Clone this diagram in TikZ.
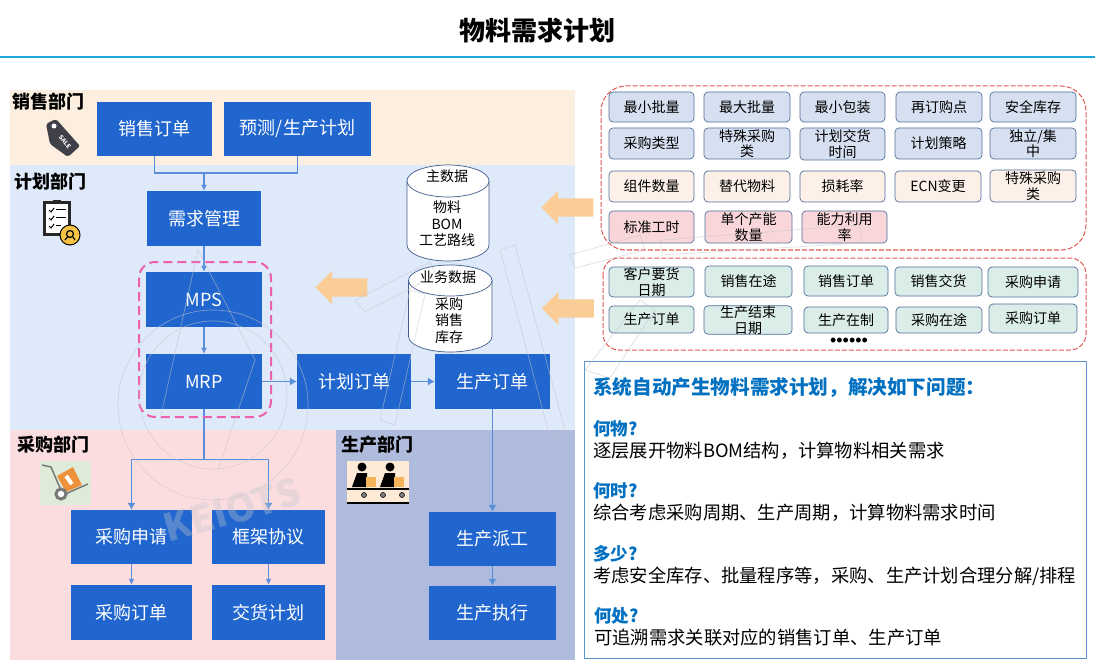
\documentclass[tikz,border=0pt]{standalone}
\usepackage{fontspec}
\setmainfont{Noto Sans CJK SC}
\newfontfamily\dotfont{Liberation Sans}
\usetikzlibrary{shapes.arrows,arrows.meta}

\begin{document}
\begin{tikzpicture}[x=1pt,y=-1pt]
\tikzstyle{every node}+=[inner sep=0pt]
\tikzstyle{bluebox}=[rectangle,fill=boxblue,text=white,font=\fontsize{18}{20}\selectfont]
\tikzstyle{smallbox}=[rectangle,rounded corners=4pt,draw=smallline,line width=0.7pt,align=center,font=\fontsize{14}{15.5}\selectfont]
\tikzstyle{deptlabel}=[anchor=west,font=\fontsize{18}{20}\selectfont\bfseries]
\tikzstyle{flow}=[draw=flowline,line width=1pt,-{Latex[length=7pt,width=8pt]}]
\tikzstyle{flowthick}=[draw=flowline,line width=1.8pt,-{Latex[length=6pt,width=6pt]}]
\tikzstyle{flowplain}=[draw=flowline,line width=1.5pt]
\tikzstyle{bigarrow}=[single arrow,fill=arroworange,shape border rotate=180,minimum height=52pt,minimum width=33pt,inner xsep=0pt,inner ysep=9pt,single arrow head extend=7.5pt,single arrow tip angle=90]
\tikzstyle{datacyl}=[draw=cylline,fill=white,line width=0.7pt]
\tikzstyle{cyltext}=[align=center,font=\fontsize{14}{16.5}\selectfont]
\tikzstyle{infohead}=[anchor=west,text=infoblue,font=\fontsize{17.5}{20}\selectfont\bfseries]
\tikzstyle{infotext}=[anchor=west,font=\fontsize{18.3}{20}\selectfont]
\tikzstyle{stamp}=[draw=stampline,line width=0.7pt,opacity=0.55]
\definecolor{boxblue}{HTML}{2166CE}
\definecolor{smallline}{HTML}{50709A}
\definecolor{flowline}{HTML}{5B8FDB}
\definecolor{arroworange}{HTML}{FBCD96}
\definecolor{cylline}{HTML}{3F5C8C}
\definecolor{infoblue}{HTML}{0070C0}
\definecolor{smallblue}{HTML}{D6E0F1}
\definecolor{smallpeach}{HTML}{FCF0E8}
\definecolor{smallpink}{HTML}{F8D6D9}
\definecolor{smallgreen}{HTML}{DAEDE9}
\definecolor{stampline}{HTML}{C4C6CC}
\useasboundingbox (0,0) rectangle (1095,671);
\fill [white] (0,0) rectangle (1095,671);
% bands
\fill [fill={rgb,255:red,253;green,239;blue,224}] (10,90) rectangle (575,165);
\fill [fill={rgb,255:red,222;green,233;blue,249}] (10,165) rectangle (575,430);
\fill [fill={rgb,255:red,251;green,221;blue,224}] (10,430) rectangle (336,660);
\fill [fill={rgb,255:red,175;green,187;blue,221}] (336,430) rectangle (575,660);
% title
\node [font=\fontsize{26}{28}\selectfont\bfseries] (title) at (537,31) {物料需求计划};
\draw [color={rgb,255:red,28;green,166;blue,220},line width=1.5pt] (0,57) -- (1095,57);
% department labels
\node [deptlabel] (dxs) at (12,102) {销售部门};
\node [deptlabel] (djh) at (14,182) {计划部门};
\node [deptlabel] (dcg) at (17,445) {采购部门};
\node [deptlabel] (dsc) at (341,445) {生产部门};
% main boxes
\node [bluebox,minimum width=115pt,minimum height=54pt] (xsdd) at (154.5,129) {销售订单};
\node [bluebox,minimum width=147pt,minimum height=54pt] (yc) at (297.5,129) {预测/生产计划};
\node [bluebox,minimum width=114pt,minimum height=55pt] (xqgl) at (204,218.5) {需求管理};
\node [bluebox,minimum width=116pt,minimum height=55pt] (mps) at (204,299.5) {MPS};
\node [bluebox,minimum width=116pt,minimum height=55pt] (mrp) at (204,381.5) {MRP};
\node [bluebox,minimum width=114pt,minimum height=55pt] (jhdd) at (354,381.5) {计划订单};
\node [bluebox,minimum width=115pt,minimum height=55pt] (scdd) at (492.5,381.5) {生产订单};
\node [bluebox,minimum width=121pt,minimum height=54pt] (cgsq) at (131.5,537) {采购申请};
\node [bluebox,minimum width=113pt,minimum height=54pt] (kjxy) at (268.5,537) {框架协议};
\node [bluebox,minimum width=121pt,minimum height=55pt] (cgdd) at (131.5,612.5) {采购订单};
\node [bluebox,minimum width=113pt,minimum height=55pt] (jhjh) at (268.5,612.5) {交货计划};
\node [bluebox,minimum width=127pt,minimum height=54pt] (scpg) at (492.5,539) {生产派工};
\node [bluebox,minimum width=127pt,minimum height=54pt] (sczx) at (492.5,613) {生产执行};
% connectors
\coordinate (j1) at (204,173);
\coordinate (j2) at (204,459);
\draw [flowplain] (xsdd.south) |- (j1);
\draw [flowplain] (yc.south) |- (j1);
\draw [flowthick] (j1) -- (xqgl.north);
\draw [flowthick] (xqgl.south) -- (mps.north);
\draw [flowthick] (mps.south) -- (mrp.north);
\draw [flowplain] (mrp.south) -- (j2);
\draw [flow] (j2) -| (cgsq.north);
\draw [flow] (j2) -| (kjxy.north);
\draw [flow] (mrp.east) -- (jhdd.west);
\draw [flow] (jhdd.east) -- (scdd.west);
\draw [flow] (scdd.south) -- (scpg.north);
\draw [flowthick] (cgsq.south) -- (cgdd.north);
\draw [flowthick] (kjxy.south) -- (jhjh.north);
\draw [flow] (scpg.south) -- (sczx.north);
\draw [color={rgb,255:red,238;green,95;blue,176},line width=2pt,dash pattern=on 9pt off 5pt,rounded corners=16pt] (139,262) rectangle (271,417);
% data stores
\draw [datacyl] (407,181) -- (407,245) arc [start angle=180,end angle=0,x radius=41,y radius=16] -- (489,181) -- cycle;
\draw [datacyl] (448,181) ellipse [x radius=41,y radius=16];
\node [cyltext] (zsjt) at (447,176) {主数据};
\node [cyltext] (zsjb) at (447,224) {物料\\BOM\\工艺路线};
\draw [datacyl] (408.5,280.5) -- (408.5,336.5) arc [start angle=180,end angle=0,x radius=41.75,y radius=15.5] -- (492,280.5) -- cycle;
\draw [datacyl] (450.25,280.5) ellipse [x radius=41.75,y radius=15.5];
\node [cyltext] (ywsjt) at (448,277) {业务数据};
\node [cyltext] (ywsjb) at (449,320.5) {采购\\销售\\库存};
\node [bigarrow] (a1) at (572,207.5) {};
\node [bigarrow] (a2) at (572.5,308.5) {};
\node [bigarrow] (a3) at (346,287.5) {};
% groups on the right
\draw [color={rgb,255:red,224;green,90;blue,80},line width=1pt,dash pattern=on 5pt off 2pt,rounded corners=25pt] (601,86) rectangle (1086,250);
\draw [color={rgb,255:red,224;green,90;blue,80},line width=1pt,dash pattern=on 5pt off 2pt,rounded corners=16pt] (603,258) rectangle (1086,350);
\node [smallbox,fill=smallblue,minimum width=85pt,minimum height=30pt] (b11) at (651.5,107) {最小批量};
\node [smallbox,fill=smallblue,minimum width=86pt,minimum height=30pt] (b12) at (747,107) {最大批量};
\node [smallbox,fill=smallblue,minimum width=85pt,minimum height=30pt] (b13) at (842.5,107) {最小包装};
\node [smallbox,fill=smallblue,minimum width=86pt,minimum height=30pt] (b14) at (939,107) {再订购点};
\node [smallbox,fill=smallblue,minimum width=86pt,minimum height=30pt] (b15) at (1033,107) {安全库存};
\node [smallbox,fill=smallblue,minimum width=85pt,minimum height=31pt] (b21) at (651.5,143.5) {采购类型};
\node [smallbox,fill=smallblue,minimum width=86pt,minimum height=31pt] (b22) at (747,143.5) {特殊采购\\类};
\node [smallbox,fill=smallblue,minimum width=85pt,minimum height=32pt] (b23) at (842.5,144) {计划交货\\时间};
\node [smallbox,fill=smallblue,minimum width=87pt,minimum height=31pt] (b24) at (938.5,143.5) {计划策略};
\node [smallbox,fill=smallblue,minimum width=86pt,minimum height=31pt] (b25) at (1033,143.5) {独立/集\\中};
\node [smallbox,fill=smallpeach,minimum width=85pt,minimum height=31pt] (b31) at (651.5,186.5) {组件数量};
\node [smallbox,fill=smallpeach,minimum width=86pt,minimum height=31pt] (b32) at (747,186.5) {替代物料};
\node [smallbox,fill=smallpeach,minimum width=85pt,minimum height=31pt] (b33) at (842.5,186.5) {损耗率};
\node [smallbox,fill=smallpeach,minimum width=86pt,minimum height=31pt] (b34) at (938,186.5) {ECN变更};
\node [smallbox,fill=smallpeach,minimum width=86pt,minimum height=32pt] (b35) at (1033,186) {特殊采购\\类};
\node [smallbox,fill=smallpink,minimum width=85pt,minimum height=32pt] (b41) at (651.5,227) {标准工时};
\node [smallbox,fill=smallpink,minimum width=87pt,minimum height=32pt] (b42) at (748.5,227) {单个产能\\数量};
\node [smallbox,fill=smallpink,minimum width=85pt,minimum height=32pt] (b43) at (844.5,227) {能力利用\\率};
\node [smallbox,fill=smallgreen,minimum width=85pt,minimum height=30pt] (c11) at (651.5,282) {客户要货\\日期};
\node [smallbox,fill=smallgreen,minimum width=87pt,minimum height=31pt] (c12) at (748.5,281.5) {销售在途};
\node [smallbox,fill=smallgreen,minimum width=84pt,minimum height=30pt] (c13) at (846,281) {销售订单};
\node [smallbox,fill=smallgreen,minimum width=87pt,minimum height=29pt] (c14) at (938.5,281.5) {销售交货};
\node [smallbox,fill=smallgreen,minimum width=90pt,minimum height=30pt] (c15) at (1033,282) {采购申请};
\node [smallbox,fill=smallgreen,minimum width=85pt,minimum height=27pt] (c21) at (651.5,319.5) {生产订单};
\node [smallbox,fill=smallgreen,minimum width=88pt,minimum height=26pt] (c22) at (748,320) {生产结束\\日期};
\node [smallbox,fill=smallgreen,minimum width=84pt,minimum height=26pt] (c23) at (846,320) {生产在制};
\node [smallbox,fill=smallgreen,minimum width=86pt,minimum height=26pt] (c24) at (939,320) {采购在途};
\node [smallbox,fill=smallgreen,minimum width=88pt,minimum height=29pt] (c25) at (1033,318.5) {采购订单};
\node [font=\dotfont\fontsize{18}{18}\selectfont] (dots) at (849,342) {••••••};
% text panel
\draw [color={rgb,255:red,90;green,150;blue,205},fill=white,line width=1pt] (584,361) rectangle (1086,658);
\node [infohead,font=\fontsize{19.6}{21}\selectfont\bfseries] (ititle) at (593,388) {系统自动产生物料需求计划，解决如下问题：};
\node [infohead] (h1) at (593,429) {何物?};
\node [infotext] (t1) at (593,451) {逐层展开物料BOM结构，计算物料相关需求};
\node [infohead] (h2) at (593,491) {何时?};
\node [infotext] (t2) at (593,513) {综合考虑采购周期、生产周期，计算物料需求时间};
\node [infohead] (h3) at (593,554) {多少?};
\node [infotext] (t3) at (593,576) {考虑安全库存、批量程序等，采购、生产计划合理分解/排程};
\node [infohead] (h4) at (594,616) {何处?};
\node [infotext] (t4) at (594,638) {可追溯需求关联对应的销售订单、生产订单};
% sale tag
\fill [color={rgb,255:red,64;green,64;blue,72},rounded corners=2pt] (46,124) -- (56,119) -- (80,146) -- (68,157) -- (50,144) -- cycle;
\fill [white] (54,126) circle (2.5);
\node [rotate=-50,text=white,font=\fontsize{6}{7}\selectfont\bfseries] (saletxt) at (65,142) {SALE};
% clipboard
\fill [color={rgb,255:red,40;green,40;blue,40}] (43,201) rectangle (71,236);
\fill [white] (46,204) rectangle (68,233);
\fill [color={rgb,255:red,40;green,40;blue,40}] (53,200) rectangle (61,204);
\draw [black,line width=1pt] (49,210) -- (51,212) -- (54,208);
\draw [black,line width=1pt] (49,218) -- (51,220) -- (54,216);
\draw [black,line width=1pt] (49,226) -- (51,228) -- (54,224);
\draw [black,line width=1pt] (56,210) -- (66,210);
\draw [black,line width=1pt] (56,218) -- (66,218);
\draw [black,line width=1pt] (56,226) -- (61,226);
\draw [fill={rgb,255:red,246;green,195;blue,68},draw=black,line width=1pt] (70,235) circle (10);
\draw [black,line width=1.2pt] (70,234) circle (3.5);
\draw [black,line width=1.2pt] (65,240) -- (67.5,237);
\draw [black,line width=1.2pt] (73,237) -- (75,240);
% cart
\fill [color={rgb,255:red,221;green,235;blue,216}] (40,461) rectangle (91,505);
\draw [color={rgb,255:red,120;green,120;blue,120},line width=1.5pt] (42,465) -- (51,467) -- (63,495) -- (88,484);
\fill [color={rgb,255:red,238;green,145;blue,60}] (57,476) -- (73,467) -- (82,485) -- (66,492) -- cycle;
\fill [white,rotate around={-55:(69,480)}] (64,478) rectangle (74,482);
\draw [color={rgb,255:red,120;green,120;blue,120},fill=white,line width=3pt] (61,494) circle (5);
% workers
\fill [color={rgb,255:red,253;green,235;blue,216}] (347,461) rectangle (409,504);
\fill [black] (362,467) circle (4.5);
\fill [black] (390,467) circle (4.5);
\fill [black] (352,487) -- (357,473) -- (367,473) -- (367,487) -- cycle;
\fill [black] (380,487) -- (385,473) -- (395,473) -- (395,487) -- cycle;
\fill [color={rgb,255:red,245;green,180;blue,90}] (366,477) rectangle (376,487);
\fill [color={rgb,255:red,245;green,180;blue,90}] (394,477) rectangle (404,487);
\draw [black,line width=1.2pt] (347,489) -- (409,489);
\draw [black,line width=1.2pt] (347,503) -- (409,503);
\draw [black,fill=gray,line width=0.6pt] (364,495) circle (2.5);
\draw [black,fill=gray,line width=0.6pt] (383,495) circle (2.5);
\draw [black,fill=gray,line width=0.6pt] (402,495) circle (2.5);
% faint stamp
\draw [stamp] (213,405) circle (95);
\draw [stamp] (213,395) circle (74);
\draw [stamp] (160,420) -- (198,250) -- (255,360) -- (218,470);
\draw [stamp] (355,300) -- (430,262) -- (436,275) -- (365,312) -- cycle;
\draw [stamp] (380,420) -- (410,290) -- (425,294) -- (395,425) -- cycle;
\draw [stamp] (500,250) -- (515,245) -- (565,430) -- (550,437) -- cycle;
\draw [stamp] (570,255) -- (640,235) -- (645,250) -- (575,268) -- cycle;
\draw [stamp] (660,240) -- (860,225) -- (862,243) -- (662,255) -- cycle;
\draw [stamp] (585,370) -- (640,300) -- (655,310) -- (610,378) -- cycle;
\node [rotate=16,text=stampline,opacity=0.35,font=\fontsize{38}{40}\selectfont\bfseries] (stampname) at (232,510) {KEIOTS};
\end{tikzpicture}
\end{document}
